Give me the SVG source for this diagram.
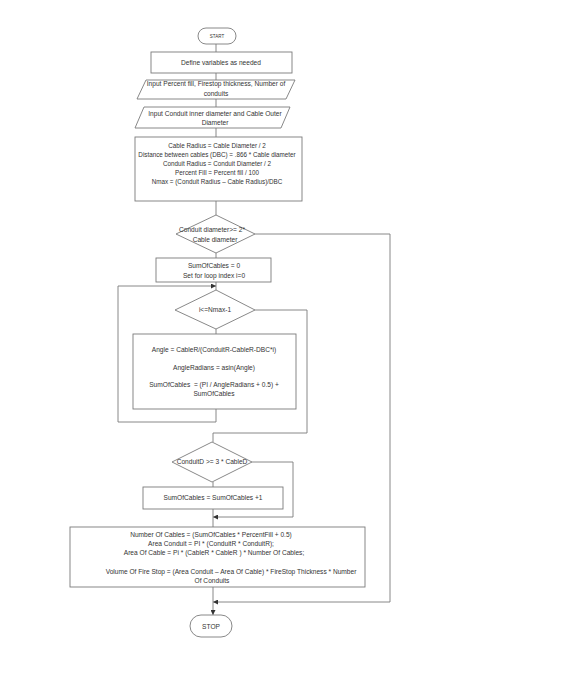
<svg xmlns="http://www.w3.org/2000/svg" width="582" height="700" viewBox="0 0 582 700">
<style>
.s{fill:#fff;stroke:#7a7a7a;stroke-width:0.9}
.c{fill:none;stroke:#7a7a7a;stroke-width:0.9}
text{font-family:"Liberation Sans",Arial,sans-serif;font-size:6.6px;fill:#333;text-anchor:middle}
.sm{font-size:4.5px}
.n{font-size:6.3px}
</style>
<defs>
<marker id="ah" viewBox="0 0 6 6" refX="6" refY="3" markerWidth="5" markerHeight="5" orient="auto" markerUnits="userSpaceOnUse">
<path d="M0,0 L6,3 L0,6 Z" fill="#333"/>
</marker>
</defs>
<rect width="582" height="700" fill="#fff"/>
<g id="connectors">
<path class="c" d="M216,44 V52"/>
<path class="c" d="M216,73 V80"/>
<path class="c" d="M216,99 V107"/>
<path class="c" d="M216,128 V137"/>
<path class="c" d="M216,201 V215"/>
<path class="c" d="M216,253 V258"/>
<path class="c" d="M255,234 H390 V602 H213" marker-end="url(#ah)"/>
<path class="c" d="M216,282 V290"/>
<path class="c" d="M216,409 V422 H118 V286 H216" marker-end="url(#ah)"/>
<path class="c" d="M216,329 V334"/>
<path class="c" d="M255,310 H307 V433 H213 V442"/>
<path class="c" d="M213,482 V487"/>
<path class="c" d="M252,462 H293 V517 H213" marker-end="url(#ah)"/>
<path class="c" d="M213,509 V527"/>
<path class="c" d="M213,587 V615" marker-end="url(#ah)"/>
</g>
<g id="start">
<rect class="s" x="198" y="28" width="38" height="16" rx="8"/>
<text class="sm" x="217" y="37.5">START</text>
</g>
<g id="define">
<rect class="s" x="151" y="52" width="141" height="21"/>
<text x="221" y="64.5">Define variables as needed</text>
</g>
<g id="input1">
<polygon class="s" points="146,80 295,80 286,99 137,99"/>
<text x="216" y="85.5">Input Percent fill, Firestop thickness, Number of</text>
<text x="216" y="95.5">conduits</text>
</g>
<g id="input2">
<polygon class="s" points="144,107 290,107 281,128 135,128"/>
<text x="215" y="115.5">Input Conduit inner diameter and Cable Outer</text>
<text x="215" y="125">Diameter</text>
</g>
<g id="compute">
<rect class="s" x="135" y="137" width="167" height="64"/>
<text class="n" x="217" y="148">Cable Radius = Cable Diameter / 2</text>
<text class="n" x="217" y="157">Distance between cables (DBC) = .866 * Cable diameter</text>
<text class="n" x="217" y="165.5">Conduit Radius = Conduit Diameter / 2</text>
<text class="n" x="217" y="174.5">Percent Fill = Percent fill / 100</text>
<text class="n" x="217" y="183.5">Nmax = (Conduit Radius – Cable Radius)/DBC</text>
</g>
<g id="check1">
<polygon class="s" points="216,215 255,234 216,253 176,234"/>
<text x="212" y="232">Conduit diameter&gt;= 2*</text>
<text x="215" y="241.5">Cable diameter</text>
</g>
<g id="init">
<rect class="s" x="156" y="258" width="115" height="24"/>
<text x="214" y="268">SumOfCables = 0</text>
<text x="214" y="278">Set for loop index i=0</text>
</g>
<g id="loopcheck">
<polygon class="s" points="216,290 255,310 216,329 175,310"/>
<text x="215" y="312">i&lt;=Nmax-1</text>
</g>
<g id="loopbody">
<rect class="s" x="133" y="334" width="163" height="75"/>
<text x="214" y="351.5">Angle = CableR/(ConduitR-CableR-DBC*i)</text>
<text x="214" y="370">AngleRadians = asin(Angle)</text>
<text x="214" y="387" xml:space="preserve">SumOfCables  = (PI / AngleRadians + 0.5) +</text>
<text x="214" y="396">SumOfCables</text>
</g>
<g id="check2">
<polygon class="s" points="212,442 252,462 212,482 172,462"/>
<text x="212" y="464.3">ConduitD &gt;= 3 * CableD</text>
</g>
<g id="increment">
<rect class="s" x="143" y="487" width="140" height="22"/>
<text x="213" y="500.3">SumOfCables = SumOfCables +1</text>
</g>
<g id="final">
<rect class="s" x="70" y="527" width="295" height="60"/>
<text x="211" y="536.5">Number Of Cables = (SumOfCables * PercentFill + 0.5)</text>
<text x="211" y="545.5">Area Conduit = PI * (ConduitR * ConduitR);</text>
<text x="214" y="554.5">Area Of Cable = Pi * (CableR * CableR ) * Number Of Cables;</text>
<text x="231" y="573.5">Volume Of Fire Stop = (Area Conduit – Area Of Cable) * FireStop Thickness * Number</text>
<text x="212" y="582.5">Of Conduits</text>
</g>
<g id="stop">
<rect class="s" x="190" y="615" width="42" height="22" rx="11"/>
<text x="211" y="628.5">STOP</text>
</g>
</svg>
